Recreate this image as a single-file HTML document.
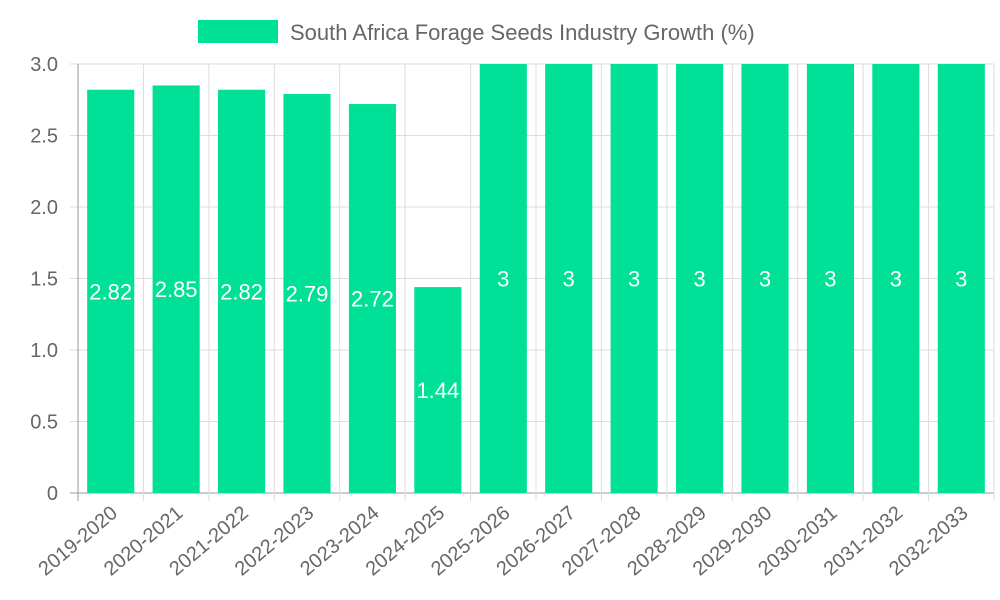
<!DOCTYPE html>
<html><head><meta charset="utf-8">
<style>
html,body{margin:0;padding:0;background:#fff;}
svg{display:block;font-family:"Liberation Sans",sans-serif;}
</style></head>
<body>
<svg id="chart" width="1000" height="600" viewBox="0 0 1000 600">
  <g id="grid"></g>
  <g id="bars"></g>
  <g id="xaxis"></g>
  <g id="yaxis"></g>
  <g>
    <rect x="198" y="20" width="80" height="23" fill="#00e096"/>
    <text x="290" y="40" font-size="22" fill="#666">South Africa Forage Seeds Industry Growth (%)</text>
  </g>
</svg>
<script>
const categories = ["2019-2020","2020-2021","2021-2022","2022-2023","2023-2024","2024-2025","2025-2026","2026-2027","2027-2028","2028-2029","2029-2030","2030-2031","2031-2032","2032-2033"];
const values = [2.82,2.85,2.82,2.79,2.72,1.44,3,3,3,3,3,3,3,3];
const valueLabels = ["2.82","2.85","2.82","2.79","2.72","1.44","3","3","3","3","3","3","3","3"];
const yTicks = [0,0.5,1.0,1.5,2.0,2.5,3.0];
const yTickLabels = ["0","0.5","1.0","1.5","2.0","2.5","3.0"];

const NS="http://www.w3.org/2000/svg";
const L=78,R=994,T=64,B=493,yMax=3;
const bw=(R-L)/categories.length;
const y=v=>B-(v/yMax)*(B-T);
const xc=i=>L+bw*(i+0.5);
function mk(tag,attrs,parent){const e=document.createElementNS(NS,tag);for(const k in attrs)e.setAttribute(k,attrs[k]);parent.appendChild(e);return e;}
const grid=document.getElementById('grid'),bars=document.getElementById('bars'),xa=document.getElementById('xaxis'),ya=document.getElementById('yaxis');

yTicks.forEach((t,i)=>{
  const ln=mk('line',{x1:L-8,x2:R,y1:y(t),y2:y(t),stroke:i===0?'#999':'#ddd','stroke-width':1},grid);
  
  
  const tx=mk('text',{x:L-20,y:y(t)+7,'text-anchor':'end','font-size':20,fill:'#666'},ya);
  tx.textContent=yTickLabels[i];
  
  
});
for(let i=0;i<=categories.length;i++){
  const x=L+bw*i;
  const ln=mk('line',{x1:x,x2:x,y1:T,y2:B+8,stroke:i===0?'#999':'#ddd','stroke-width':1},grid);
  
  
}
categories.forEach((c,i)=>{
  const w=bw*0.72;
  const r=mk('rect',{x:xc(i)-w/2,y:y(values[i]),width:w,height:B-y(values[i]),fill:'#00e096'},bars);
  
  
  const vt=mk('text',{x:xc(i),y:(y(values[i])+B)/2+8,'text-anchor':'middle','font-size':22,fill:'#fff'},bars);
  vt.textContent=valueLabels[i];
  
  
  const xt=mk('text',{x:0,y:0,'text-anchor':'end','font-size':20,fill:'#666',transform:`translate(${xc(i)+8},${B+22}) rotate(-40)`},xa);
  xt.textContent=c;
  
  
});
</script>
</body></html>
